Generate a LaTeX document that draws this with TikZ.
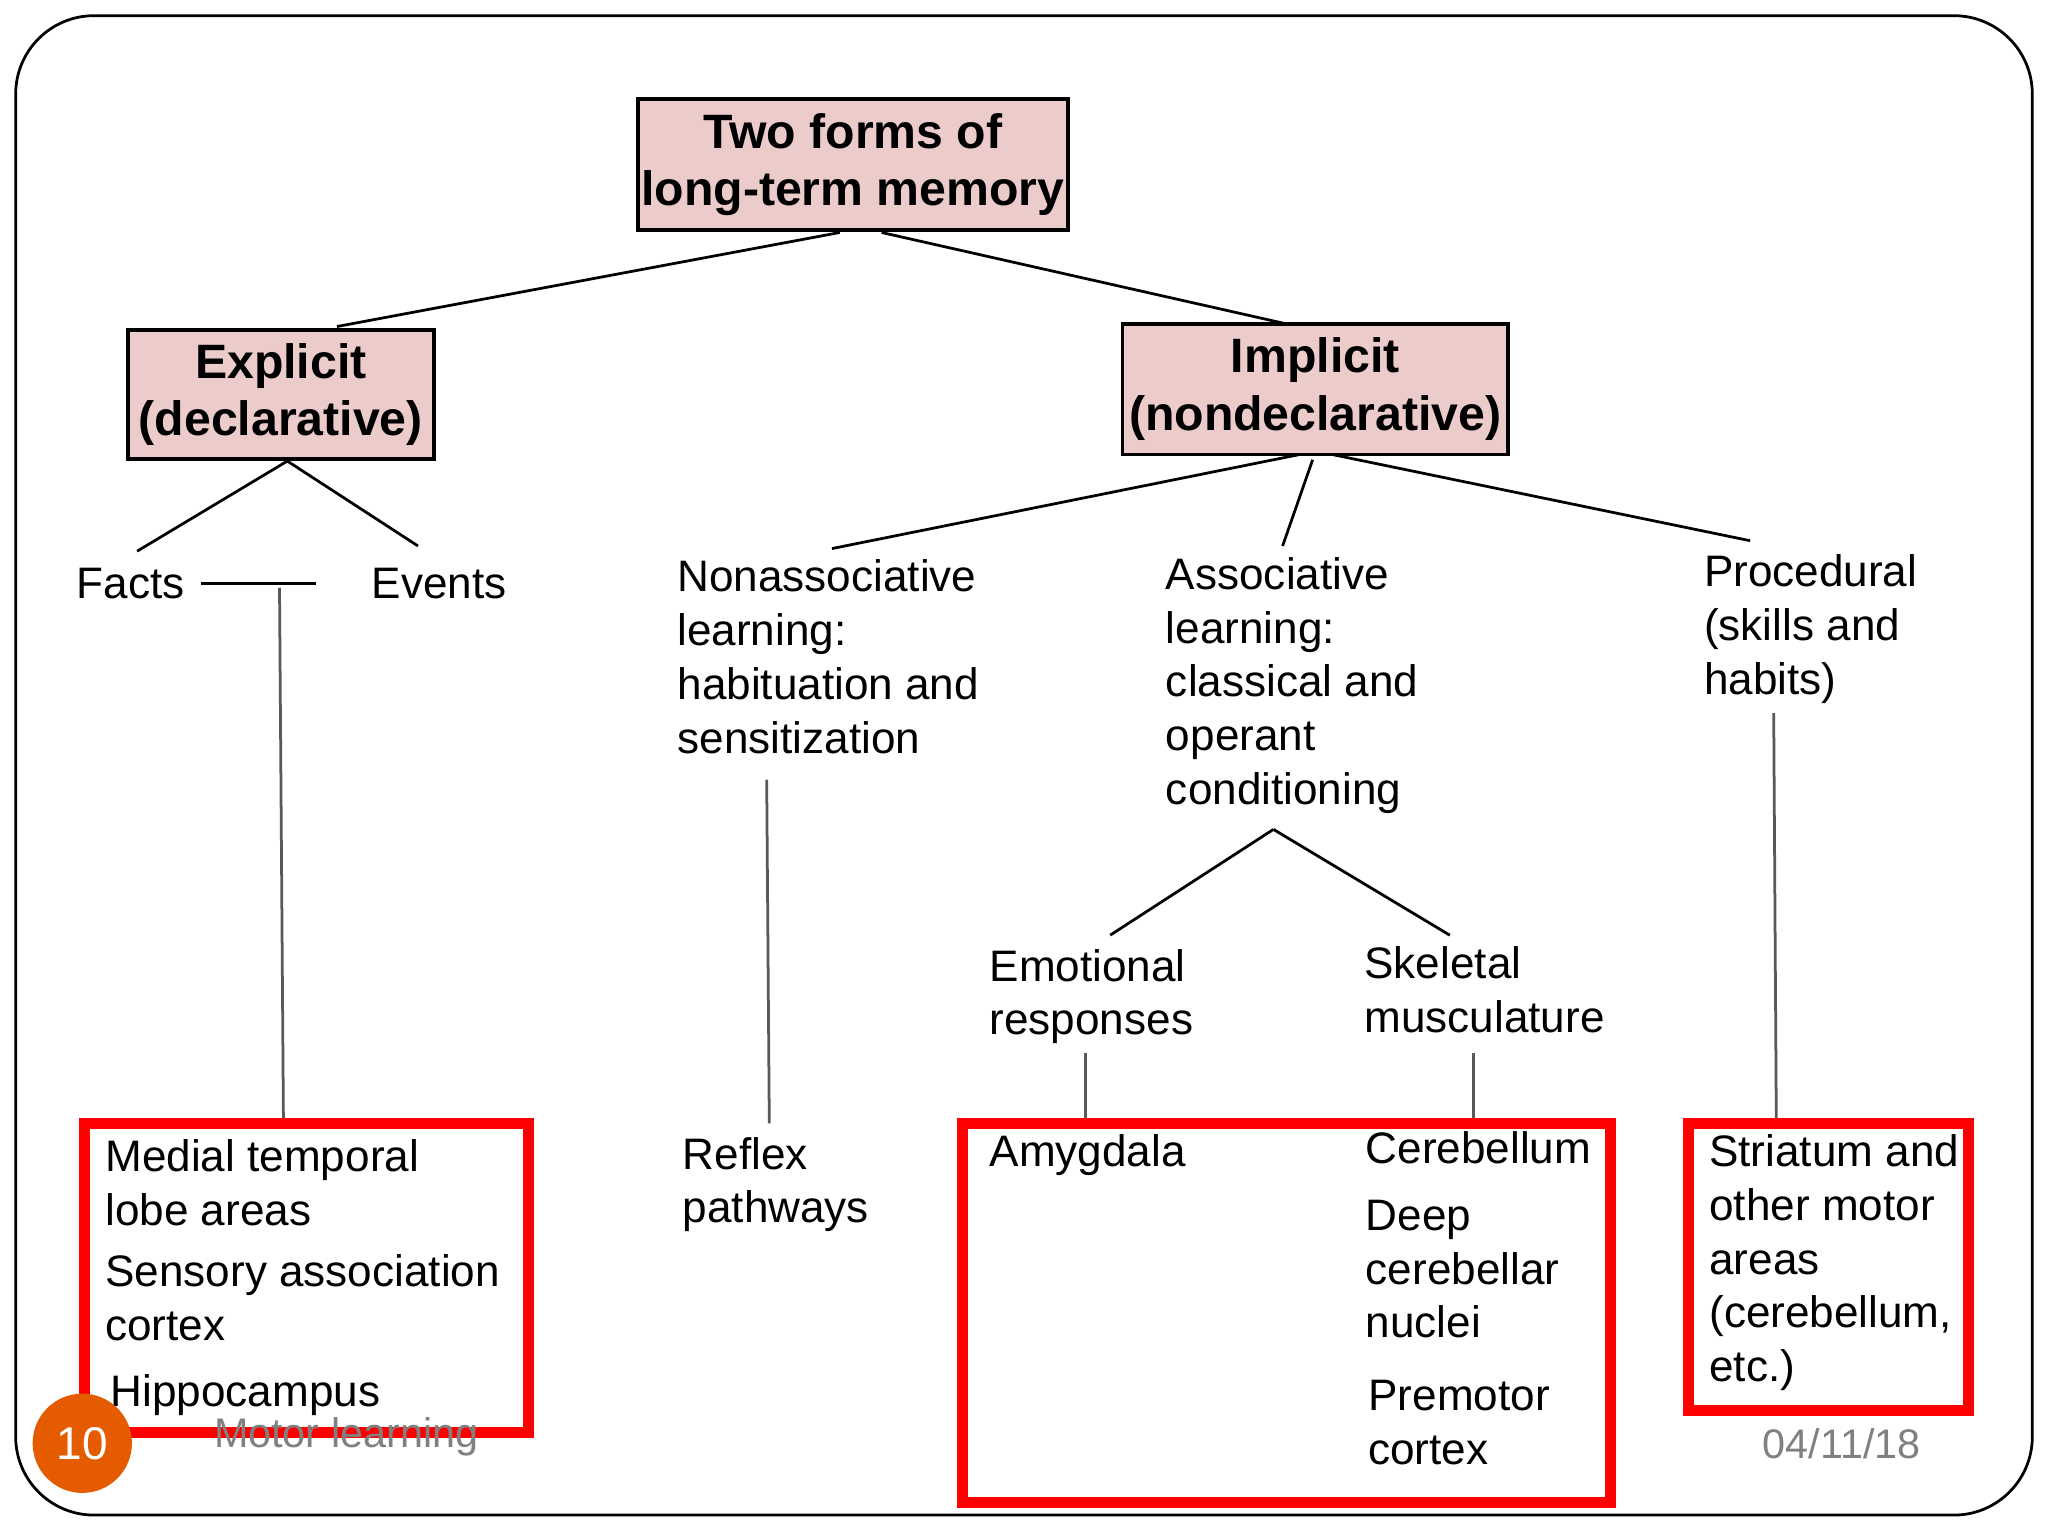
\documentclass[tikz,border=0pt]{standalone}
\usepackage{fontspec}
\setmainfont{Liberation Sans}
\begin{document}
\begin{tikzpicture}[x=0.01cm,y=-0.01cm,
  box/.style={draw,fill=pink!60!white!85!gray,line width=0.8pt,font=\fontsize{10.5}{12.5}\selectfont\bfseries,align=center,inner sep=0},
  t/.style={anchor=north west,align=left,inner sep=0,font=\fontsize{9.6}{11.7}\selectfont},
  ln/.style={line width=0.6pt},
  gl/.style={line width=0.6pt,gray!70!black},
  red/.style={draw=red,line width=2.4pt}]
\useasboundingbox (0,0) rectangle (1568,1176);
\draw[line width=0.6pt,rounded corners=0.6cm] (12,12) rectangle (1556,1160);
\node[box,minimum width=3.29cm,minimum height=1cm] (top) at (653,126) {Two forms of\\long-term memory};
\node[box,minimum width=2.34cm,minimum height=0.99cm] (exp) at (215,302) {Explicit\\(declarative)};
\node[box,minimum width=2.95cm,minimum height=1cm] (imp) at (1007,298) {Implicit\\(nondeclarative)};
\coordinate (a1) at (643,178); \coordinate (a2) at (675,178);
\coordinate (e1) at (258,250); \coordinate (i1) at (985,248);
\draw[ln] (a1)--(e1); \draw[ln] (a2)--(i1);
\node[t,anchor=west] (facts) at (58,447) {Facts};
\node[t,anchor=west] (events) at (284,447) {Events};
\coordinate (ex) at (220,353);
\draw[ln] (ex)--(105,422); \draw[ln] (ex)--(320,418);
\draw[ln] (facts.east)++(12,0)--([xshift=-12]events.west);
\node[t] (non) at (518,428) {Nonassociative\\learning:\\habituation and\\sensitization};
\node[t] (ass) at (892,426) {Associative\\learning:\\classical and\\operant\\conditioning};
\node[t] (pro) at (1304,424) {Procedural\\(skills and\\habits)};
\draw[ln] (995,348)--(637,420);
\draw[ln] (1005,352)--(982,418);
\draw[ln] (1020,348)--(1340,414);
\node[t] (emo) at (757,726) {Emotional\\responses};
\node[t] (ske) at (1044,724) {Skeletal\\musculature};
\coordinate (as) at (975,635);
\draw[ln] (as)--(850,716); \draw[ln] (as)--(1110,716);
\node[t] (med) at (80,872) {Medial temporal\\lobe areas};
\node[t] (sen) at (80,960) {Sensory association\\cortex};
\node[t] (hip) at (84,1052) {Hippocampus};
\node[t] (ref) at (522,870) {Reflex\\pathways};
\node[t] (amy) at (757,868) {Amygdala};
\node[t] (cer) at (1045,866) {Cerebellum};
\node[t] (dee) at (1045,918) {Deep\\cerebellar\\nuclei};
\node[t] (pre) at (1047,1056) {Premotor\\cortex};
\node[t] (str) at (1308,868) {Striatum and\\other motor\\areas\\(cerebellum,\\etc.)};
\draw[gl] (214,450)--(217,857);
\draw[gl] (587,597)--(589,860);
\draw[gl] (831,806)--(831,860);
\draw[gl] (1128,806)--(1128,858);
\draw[gl] (1358,546)--(1360,858);
\draw[red] (65,860) rectangle (405,1097);
\draw[red] (737,860) rectangle (1233,1150);
\draw[red] (1293,860) rectangle (1507,1080);
\node[circle,fill=orange!80!red!90!black,minimum size=0.76cm,inner sep=0,text=white,font=\fontsize{10}{12}\selectfont] (num) at (63,1105) {10};
\node[text=gray,font=\fontsize{9}{11}\selectfont] (ml) at (265,1100) {Motor learning};
\node[text=gray,font=\fontsize{9}{11}\selectfont] (dt) at (1410,1105) {04/11/18};
\end{tikzpicture}
\end{document}
